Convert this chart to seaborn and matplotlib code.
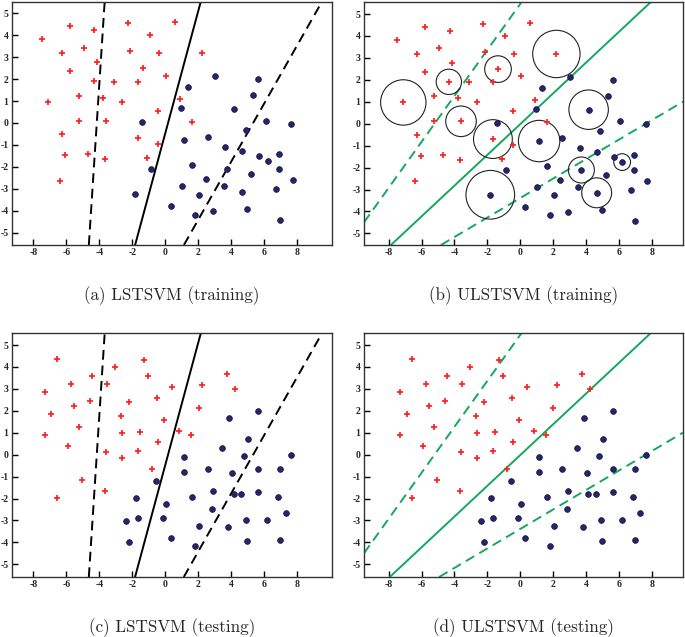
import numpy as np
import pandas as pd
import matplotlib
matplotlib.use("Agg")
import matplotlib.pyplot as plt
import seaborn as sns

# training set (panels a, b)
train_pos_x = [-7.47, -7.11, -6.42, -6.26, -6.26, -6.06, -5.80, -5.80, -5.25, -5.23, -4.93, -4.69,
               -4.34, -4.30, -4.12, -3.76, -3.64, -3.60, -3.11, -2.63, -2.26, -2.12, -1.66, -1.66,
               -1.35, -1.09, -0.91, -0.46, -0.44, -0.36, 0.06, 0.57, 0.91, 1.62, 2.20]
train_pos_y = [3.81, 0.97, -2.63, -0.52, 3.18, -1.47, 4.42, 2.37, 1.25, 0.11, 3.43, -1.41,
               1.91, 4.24, 2.78, 1.16, -1.66, 0.11, 1.88, 0.97, 4.56, 3.28, -0.70, 1.88,
               2.49, -1.61, 4.01, 0.56, -0.97, 3.18, 2.16, 4.59, 1.09, 0.06, 3.18]
train_neg_x = [1.35, 3.01, 5.64, 5.31, 0.97, 4.16, -1.41, 6.08, 7.62, 4.87, 1.15, 2.57,
               3.62, 4.67, 5.70, 6.20, 6.91, -0.85, 1.62, 3.72, 5.19, 6.91, 1.01, 2.44,
               3.54, 2.06, 4.65, 6.73, 7.72, -1.82, 0.32, 1.80, 2.89, 4.97, 6.97]
train_neg_y = [1.63, 2.13, 2.01, 1.26, 0.68, 0.64, 0.03, 0.11, -0.03, -0.33, -0.79, -0.64,
               -1.09, -1.29, -1.50, -1.75, -1.41, -2.11, -1.91, -2.11, -2.33, -2.11, -2.87, -2.57,
               -2.90, -3.27, -3.15, -3.02, -2.61, -3.24, -3.80, -4.18, -4.01, -3.92, -4.42]

# testing set (panels c, d)
test_pos_x = [-6.57, -7.31, -6.91, -7.31, -6.57, -5.90, -5.72, -5.56, -5.25, -5.05, -4.59, -4.46,
              -3.60, -3.54, -3.64, -3.05, -2.71, -2.61, -2.61, -2.20, -1.66, -1.52, -1.27, -1.07,
              -0.83, -0.48, -0.46, -0.08, 0.40, 0.83, 1.58, 2.02, 2.22, 3.76, 4.22]
test_pos_y = [4.35, 2.86, 1.84, 0.88, -1.98, 0.40, 3.21, 2.22, 1.25, -1.14, 2.45, 3.60,
              0.12, 3.21, -1.67, 4.01, 1.76, 0.97, -0.15, 2.40, 0.15, 1.03, 4.30, 3.60,
              -0.65, 2.57, 0.56, 1.58, 3.07, 1.08, 0.88, 2.14, 3.19, 3.68, 2.98]
test_neg_x = [1.15, 1.15, -0.57, -1.78, 0.02, -2.36, -1.66, -0.14, -2.18, 0.32, 1.62, 2.06,
              1.80, 2.57, 2.89, 2.85, 3.43, 3.86, 4.06, 4.14, 4.61, 4.77, 5.03, 3.82,
              4.91, 4.97, 5.64, 5.64, 5.64, 6.18, 6.83, 6.97, 7.31, 6.97, 7.62]
test_neg_y = [-0.12, -0.81, -1.20, -1.96, -2.25, -3.02, -2.87, -2.90, -4.00, -3.81, -1.91, -3.27,
              -4.18, -0.64, -1.67, -2.46, 0.30, 1.66, -0.84, -1.81, -1.81, -0.06, 0.71, -3.31,
              -2.98, -3.94, 1.99, -0.67, -1.70, -2.98, -1.95, -0.67, -2.66, -3.89, -0.03]

# uncertainty circles (ULSTSVM), centre and radius in x units
circ_x = [-7.11, -4.34, -1.35, 2.20, -3.60, -1.66, 1.15, 4.16, -1.82, 3.72, 4.65, 6.20]
circ_y = [0.97, 1.91, 2.49, 3.18, 0.11, -0.70, -0.79, 0.64, -3.24, -2.11, -3.15, -1.75]
circ_r = [1.38, 0.77, 0.81, 1.44, 0.93, 1.18, 1.26, 1.20, 1.48, 0.79, 0.91, 0.51]

# hyperplanes: point on line and slope
lst_pts = [(0.16, 0.0), (-4.16, 0.0), (5.32, 0.0)]
lst_slopes = [2.79, 11.56, 1.327]
ulst_pts = [(0.0, -0.02), (0.0, 5.46), (0.0, -3.39)]
ulst_slopes = [0.701, 1.048, 0.444]

captions = ["(a) LSTSVM (training)", "(b) ULSTSVM (training)",
            "(c) LSTSVM (testing)", "(d) ULSTSVM (testing)"]

sns.set_theme(style="white")
plt.rcParams["axes.unicode_minus"] = False

fig = plt.figure(figsize=(6.85, 6.37), dpi=100)
W, H = 685, 637
boxes = [(12, 2, 332, 245), (364, 2, 683, 245), (12, 333, 332, 577), (364, 333, 683, 577)]
xlims = [(-9.3, 10.1), (-9.5, 9.9), (-9.3, 10.1), (-9.5, 9.9)]
ylims = [(-5.57, 5.52), (-5.53, 5.55), (-5.58, 5.55), (-5.58, 5.55)]

green = "#14a85e"
for i, (l, t, r, b) in enumerate(boxes):
    ax = fig.add_axes([l / W, 1 - b / H, (r - l) / W, (b - t) / H])
    if i < 2:
        px, py, nx, ny = train_pos_x, train_pos_y, train_neg_x, train_neg_y
    else:
        px, py, nx, ny = test_pos_x, test_pos_y, test_neg_x, test_neg_y
    ax.set_xlim(*xlims[i])
    ax.set_ylim(*ylims[i])

    if i % 2 == 0:
        pts, slopes, col = lst_pts, lst_slopes, "black"
    else:
        pts, slopes, col = ulst_pts, ulst_slopes, green
    ax.axline(pts[0], slope=slopes[0], color=col, lw=1.4, zorder=1)
    for p, s in zip(pts[1:], slopes[1:]):
        ax.axline(p, slope=s, color=col, lw=1.4, dashes=(5, 3), zorder=1)

    sns.scatterplot(x=px, y=py, marker="+", color="#ff2020", s=24, linewidth=1.25, ax=ax, zorder=3)
    sns.scatterplot(x=nx, y=ny, marker="o", color="#26246e", edgecolor="#101030",
                    linewidth=0.5, s=17, ax=ax, zorder=3)

    if i == 1:
        # circles sized in pixels from x-units
        fig.canvas.draw()
        ppu = ax.transData.transform((1, 0))[0] - ax.transData.transform((0, 0))[0]
        sizes = [(2 * rr * ppu * 72 / fig.dpi) ** 2 for rr in circ_r]
        ax.scatter(circ_x, circ_y, s=sizes, facecolors="none", edgecolors="#222222",
                   linewidths=0.8, zorder=2)

    ax.set_xticks(range(-8, 9, 2))
    ax.set_yticks(range(-5, 6))
    ax.tick_params(direction="in", length=4, width=1, color="black", pad=2.5,
                   labelsize=7, bottom=True, left=True, top=False, right=False)
    for lab in ax.get_xticklabels() + ax.get_yticklabels():
        lab.set_fontfamily("Liberation Serif")
        lab.set_fontweight("bold")
    for sp in ax.spines.values():
        sp.set_color("#333333")
        sp.set_linewidth(1.0)

    cy = 296 if i < 2 else 628
    fig.text((l + r) / 2 / W, 1 - cy / H, captions[i], ha="center", va="center",
             fontsize=12.3, fontfamily="cmr10")

fig.savefig("out.png", dpi=100)
